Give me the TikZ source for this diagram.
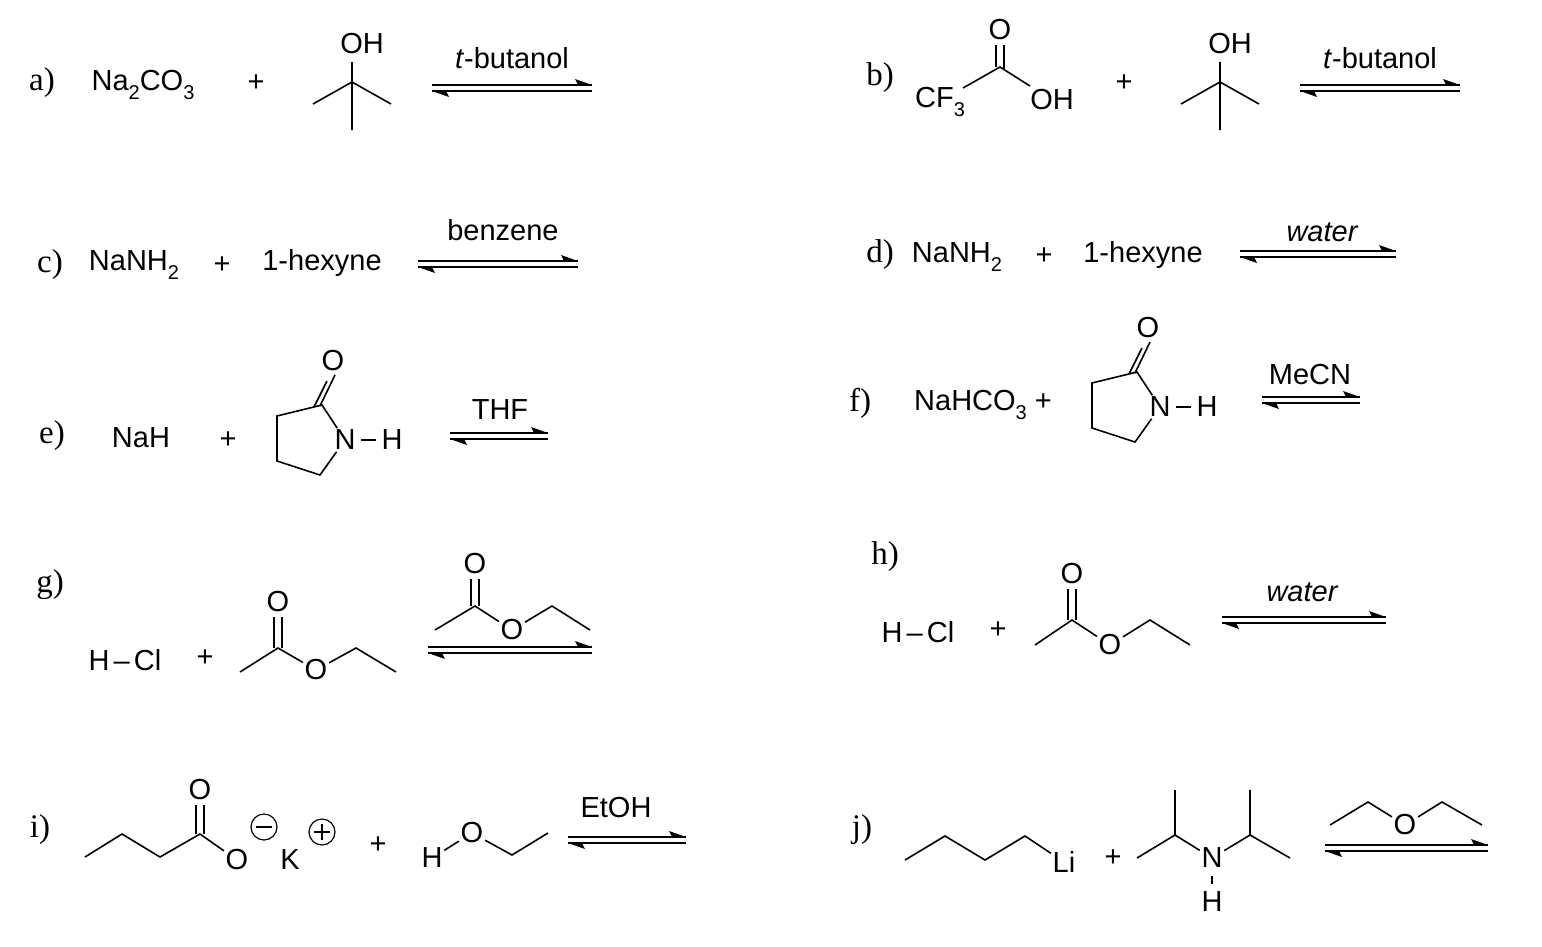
\documentclass[tikz,border=0pt]{standalone}
\usepackage{fontspec}
\setmainfont{Liberation Sans}
\newfontfamily\lblfont{Liberation Serif}
\newcommand\sub[1]{\raisebox{-0.28em}{\fontsize{20}{21}\selectfont #1}}
\newcommand\eqarr[3]{%
 \fill (#1,#3-3) -- (#2,#3-3) -- (#2-17,#3-9) -- (#2-14,#3-3) -- cycle;
 \fill (#2,#3+3) -- (#1,#3+3) -- (#1+17,#3+9) -- (#1+14,#3+3) -- cycle;
 \draw (#1,#3-3) -- (#2,#3-3); \draw (#1,#3+3) -- (#2,#3+3);}
\begin{document}
\begin{tikzpicture}[x=1pt,y=-1pt,line width=1.6pt,
  t/.style={inner sep=1pt,font=\fontsize{29}{32}\selectfont},
  lb/.style={inner sep=1pt,font=\lblfont\fontsize{33}{35}\selectfont},
  it/.style={t,font=\fontsize{29}{32}\selectfont\itshape}]
\useasboundingbox (0,0) rectangle (1542,946);
% a)
\node[lb] (la) at (42,83) {a)};
\node[t] (na) at (143,85) {Na\sub{2}CO\sub{3}};
\node[t] (pa) at (256,83) {+};
\node[t] (oha) at (362,44) {OH};
\coordinate (ca) at (352,82);
\draw (ca) -- (352,62) (ca) -- (313,104) (ca) -- (391,104) (ca) -- (352,130);
\eqarr{432}{592}{88}
\node[t] (sa) at (512,58) {\textit{t}-butanol};
% b)
\node[lb] (lbb) at (880,78) {b)};
\node[t] (cf) at (940,102) {CF\sub{3}};
\coordinate (cb) at (1000,67);
\node[t] (ob) at (1000,30) {O};
\node[t] (ohb) at (1052,100) {OH};
\draw (963,88) -- (cb) -- (1030,86);
\draw (996,67) -- (996,45) (1004,70) -- (1004,45);
\node[t] (pb) at (1124,83) {+};
\node[t] (ohb2) at (1230,44) {OH};
\coordinate (cb2) at (1220,82);
\draw (cb2) -- (1220,62) (cb2) -- (1181,104) (cb2) -- (1259,104) (cb2) -- (1220,130);
\eqarr{1300}{1460}{88}
\node[t] (sb) at (1380,58) {\textit{t}-butanol};
% c)
\node[lb] (lc) at (50,265) {c)};
\node[t] (nc) at (134,265) {NaNH\sub{2}};
\node[t] (pc) at (222,265) {+};
\node[t] (hc) at (322,263) {1-hexyne};
\eqarr{418}{578}{264}
\node[t] (sc) at (503,230) {benzene};
% d)
\node[lb] (ld) at (880,255) {d)};
\node[t] (nd) at (957,257) {NaNH\sub{2}};
\node[t] (pd) at (1044,256) {+};
\node[t] (hd) at (1143,255) {1-hexyne};
\eqarr{1240}{1396}{254}
\node[it] (sd) at (1322,232) {water};
% e)
\node[lb] (le) at (52,436) {e)};
\node[t] (ne) at (141,438) {NaH};
\node[t] (pe) at (228,440) {+};
\node[t] (oe) at (333,361) {O};
\node[t] (nne) at (345,440) {N};
\node[t] (he) at (392,440) {H};
\draw (361,440) -- (376,440);
\draw (335,375) -- (320,406) (327,381) -- (314,407);
\draw (nne) -- (322,405) -- (277,416) -- (277,461) -- (320,475) -- (nne);
\eqarr{450}{548}{436}
\node[t] (se) at (500,410) {THF};
% f)
\node[lb] (lf) at (860,403) {f)};
\node[t] (nf) at (983,405) {NaHCO\sub{3} +};
\node[t] (of) at (1148,328) {O};
\node[t] (nnf) at (1160,407) {N};
\node[t] (hf) at (1207,407) {H};
\draw (1176,407) -- (1191,407);
\draw (1150,342) -- (1135,373) (1142,348) -- (1129,374);
\draw (nnf) -- (1137,372) -- (1092,383) -- (1092,428) -- (1135,442) -- (nnf);
\eqarr{1262}{1360}{400}
\node[t] (sf) at (1310,375) {MeCN};
% g)
\node[lb] (lg) at (50,585) {g)};
\node[t] (hg) at (125,660) {H$\,$--$\,$Cl};
\node[t] (pg) at (205,658) {+};
\node[t] (og1) at (278,602) {O};
\node[t] (og2) at (316,670) {O};
\draw (240,672) -- (278,648) -- (og2) -- (356,648) -- (396,672);
\draw (274,648) -- (274,617) (282,648) -- (282,617);
\eqarr{428}{592}{650}
\node[t] (og3) at (475,564) {O};
\node[t] (og4) at (512,630) {O};
\draw (435,630) -- (475,606) -- (og4) -- (552,606) -- (590,630);
\draw (471,606) -- (471,579) (479,606) -- (479,579);
% h)
\node[lb] (lh) at (885,557) {h)};
\node[t] (hh) at (918,632) {H$\,$--$\,$Cl};
\node[t] (ph) at (998,630) {+};
\node[t] (oh1) at (1072,574) {O};
\node[t] (oh2) at (1110,645) {O};
\draw (1035,645) -- (1072,620) -- (oh2) -- (1150,620) -- (1190,645);
\draw (1068,620) -- (1068,589) (1076,620) -- (1076,589);
\eqarr{1222}{1386}{620}
\node[it] (sh) at (1302,592) {water};
% i)
\node[lb] (li) at (40,830) {i)};
\node[t] (oi1) at (200,790) {O};
\node[t] (oi2) at (237,860) {O};
\draw (85,857) -- (122,834) -- (160,857) -- (200,834) -- (oi2);
\draw (196,834) -- (196,805) (204,834) -- (204,805);
\node[circle,draw,line width=1.2pt,minimum size=26pt,inner sep=0pt] (mi) at (264,827) {};
\draw[line width=1.4pt] (256,827) -- (272,827);
\node[t] (ki) at (290,860) {K};
\node[circle,draw,line width=1.2pt,minimum size=26pt,inner sep=0pt] (plsi) at (322,832) {};
\draw[line width=1.4pt] (314,832) -- (330,832) (322,824) -- (322,840);
\node[t] (pi) at (378,845) {+};
\node[t] (hi) at (432,858) {H};
\node[t] (oi3) at (472,833) {O};
\draw (hi) -- (oi3) -- (512,855) -- (548,833);
\eqarr{568}{686}{840}
\node[t] (si) at (616,808) {EtOH};
% j)
\node[lb] (lj) at (862,830) {j)};
\node[t] (lij) at (1064,862) {Li};
\draw (905,860) -- (945,836) -- (985,860) -- (1025,836) -- (lij);
\node[t] (pj) at (1113,858) {+};
\node[t] (nj) at (1212,858) {N};
\node[t] (hj) at (1212,902) {H};
\draw (1212,876) -- (1212,884);
\draw (1137,858) -- (1175,835) -- (nj) -- (1250,835) -- (1290,858);
\draw (1175,835) -- (1175,790) (1250,835) -- (1250,790);
\node[t] (oj) at (1405,825) {O};
\draw (1330,825) -- (1368,802) -- (oj) -- (1442,802) -- (1482,825);
\eqarr{1325}{1488}{848}
\end{tikzpicture}
\end{document}
